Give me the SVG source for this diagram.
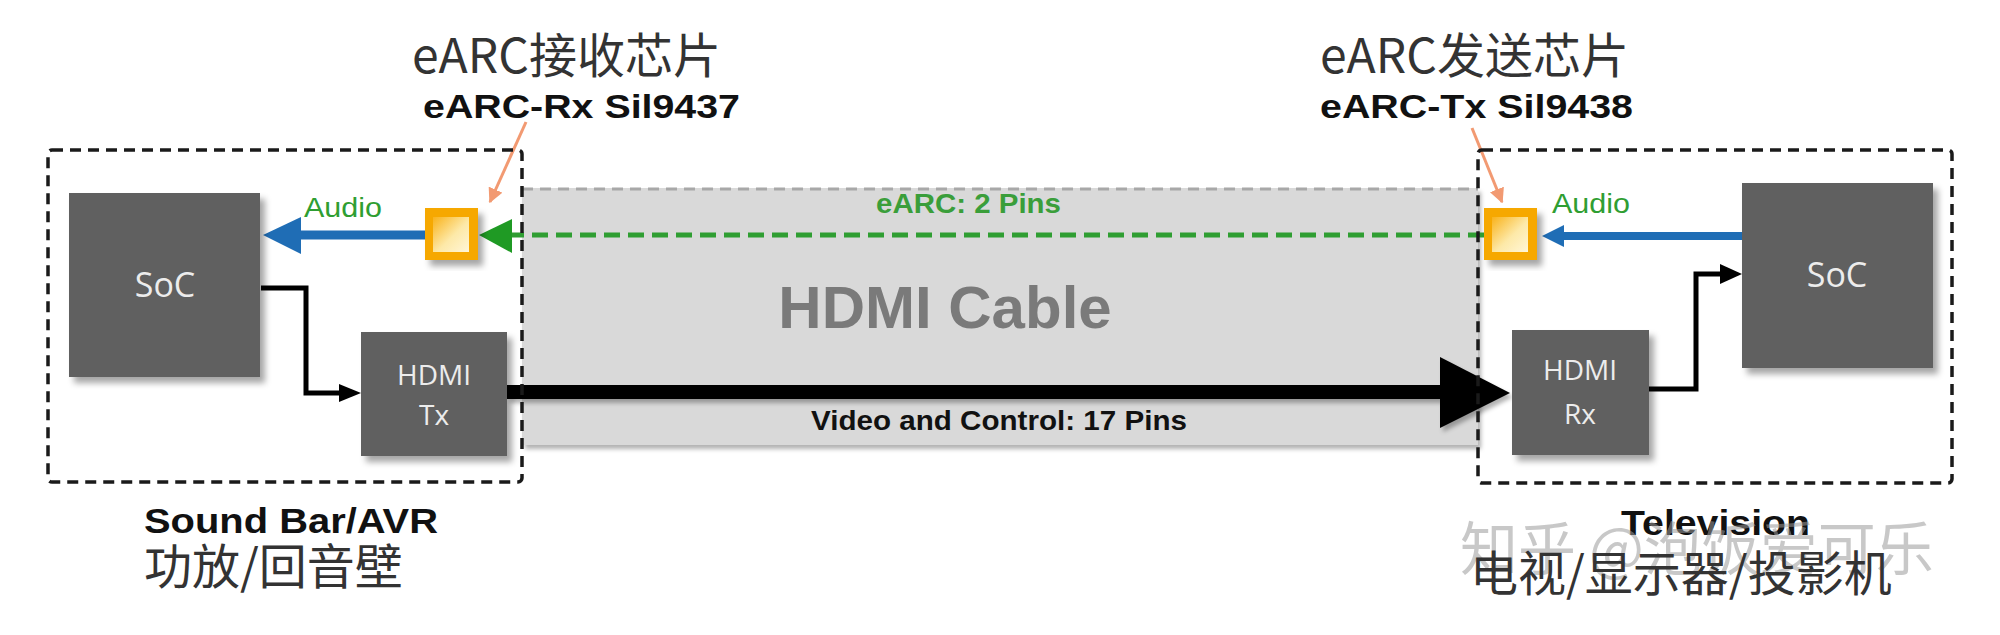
<svg xmlns="http://www.w3.org/2000/svg" width="2000" height="635" viewBox="0 0 2000 635">
<defs>
<filter id="sh" x="-20%" y="-20%" width="140%" height="140%">
<feDropShadow dx="5" dy="6" stdDeviation="3" flood-color="#000" flood-opacity="0.35"/>
</filter>
<filter id="shs" x="-5%" y="-30%" width="110%" height="160%">
<feDropShadow dx="3" dy="4" stdDeviation="2" flood-color="#000" flood-opacity="0.3"/>
</filter>
<linearGradient id="chipg" x1="0" y1="0" x2="1" y2="1">
<stop offset="0" stop-color="#f9b21a"/>
<stop offset="0.55" stop-color="#fde9a8"/>
<stop offset="1" stop-color="#fff6d8"/>
</linearGradient>
<marker id="oarr" viewBox="0 0 10 10" refX="9" refY="5" markerWidth="5" markerHeight="5" orient="auto" markerUnits="strokeWidth">
<path d="M0,0 L10,5 L0,10 z" fill="#f29a72"/>
</marker>
</defs>
<style>
.box{fill:#606060;filter:url(#sh)}
.btxt{font-family:"Open Sans","Noto Sans",sans-serif;fill:#ececec;text-anchor:middle}
.dash{fill:none;stroke:#1a1a1a;stroke-width:3.5;stroke-dasharray:11 7}
.cjk{font-family:"Noto Sans CJK SC","Noto Sans",sans-serif;font-size:48px;fill:#333}
.bold{font-family:"Liberation Sans",Arial,sans-serif;font-weight:bold}
.green{font-family:"Liberation Sans",Arial,sans-serif;fill:#2f9e32}
.chip{fill:#f6a800;filter:url(#sh)}
.lead{stroke:#f29a72;stroke-width:3;fill:none}
</style>
<rect width="2000" height="635" fill="#fff"/>

<g id="hdmi-cable">
<rect x="522" y="188" width="956" height="257" fill="#d9d9d9" filter="url(#shs)"/>
<line x1="522" y1="189" x2="1478" y2="189" stroke="#a8a8a8" stroke-width="3" stroke-dasharray="11 7"/>
<text x="945" y="328" class="bold" font-size="60" fill="#7a7a7a" text-anchor="middle">HDMI Cable</text>
</g>

<g id="connectors">
<g filter="url(#shs)">
<line x1="507" y1="392" x2="1442" y2="392" stroke="#000" stroke-width="14"/>
<polygon points="1440,357 1510,393 1440,428" fill="#000"/>
</g>
<line x1="1484" y1="235" x2="510" y2="235" stroke="#2f9e32" stroke-width="5" stroke-dasharray="16 8"/>
<polygon points="479,235 512,219 512,253" fill="#1f9a24"/>
<line x1="425" y1="235" x2="296" y2="235" stroke="#1f6db5" stroke-width="9"/>
<polygon points="263,235 301,217 301,254" fill="#1f6db5"/>
<line x1="1742" y1="236" x2="1558" y2="236" stroke="#1f6db5" stroke-width="8"/>
<polygon points="1542,236 1564,225 1564,247" fill="#1f6db5"/>
<polyline points="261,288 306,288 306,393 342,393" fill="none" stroke="#000" stroke-width="5"/>
<polygon points="339,384 361,393 339,402" fill="#000"/>
<polyline points="1649,389 1696,389 1696,274 1722,274" fill="none" stroke="#000" stroke-width="5"/>
<polygon points="1720,264 1742,274 1720,284" fill="#000"/>
<line x1="526" y1="122" x2="490" y2="202" class="lead" marker-end="url(#oarr)"/>
<line x1="1472" y1="128" x2="1502" y2="202" class="lead" marker-end="url(#oarr)"/>
<text x="304" y="217" class="green" font-size="27" textLength="78" lengthAdjust="spacingAndGlyphs">Audio</text>
<text x="1552" y="213" class="green" font-size="27" textLength="78" lengthAdjust="spacingAndGlyphs">Audio</text>
<text x="876" y="213" class="bold" font-size="27" fill="#3a9e3a" textLength="185" lengthAdjust="spacingAndGlyphs">eARC: 2 Pins</text>
<text x="811" y="430" class="bold" font-size="27" fill="#111" textLength="376" lengthAdjust="spacingAndGlyphs">Video and Control: 17 Pins</text>
</g>

<g id="soundbar">
<rect x="48" y="150" width="474" height="332" rx="4" class="dash"/>
<text x="144" y="533" class="bold" font-size="35" fill="#111" textLength="294" lengthAdjust="spacingAndGlyphs">Sound Bar/AVR</text>
<text x="144" y="584" class="cjk">功放/回音壁</text>
</g>

<g id="television">
<rect x="1478" y="150" width="474" height="333" rx="4" class="dash"/>
<text x="1621" y="535" class="bold" font-size="35" fill="#111" textLength="189" lengthAdjust="spacingAndGlyphs">Television</text>
</g>

<g id="soc-left">
<rect x="69" y="193" width="191" height="184" class="box"/>
<text x="165" y="297" class="btxt" font-size="34">SoC</text>
</g>

<g id="hdmi-tx">
<rect x="361" y="332" width="146" height="124" class="box"/>
<text x="434" y="385" class="btxt" font-size="28">HDMI</text>
<text x="434" y="425" class="btxt" font-size="28">Tx</text>
</g>

<g id="soc-right">
<rect x="1742" y="183" width="191" height="185" class="box"/>
<text x="1837" y="287" class="btxt" font-size="34">SoC</text>
</g>

<g id="hdmi-rx">
<rect x="1512" y="330" width="137" height="125" class="box"/>
<text x="1580" y="380" class="btxt" font-size="28">HDMI</text>
<text x="1580" y="424" class="btxt" font-size="28">Rx</text>
</g>

<g id="earc-rx">
<rect x="425" y="208" width="53" height="52" class="chip"/>
<rect x="433" y="217" width="36" height="35" fill="url(#chipg)"/>
<text x="412" y="73" class="cjk">eARC接收芯片</text>
<text x="423" y="118" class="bold" font-size="34" fill="#111" textLength="317" lengthAdjust="spacingAndGlyphs">eARC-Rx Sil9437</text>
</g>

<g id="earc-tx">
<rect x="1484" y="208" width="53" height="52" class="chip"/>
<rect x="1492" y="217" width="36" height="35" fill="url(#chipg)"/>
<text x="1320" y="73" class="cjk">eARC发送芯片</text>
<text x="1320" y="118" class="bold" font-size="34" fill="#111" textLength="313" lengthAdjust="spacingAndGlyphs">eARC-Tx Sil9438</text>
</g>

<text x="1460" y="570" font-family="Noto Sans CJK SC, sans-serif" font-size="58" fill="#9a9a9a" fill-opacity="0.55">知乎 @泡饭爱可乐</text>
<text x="1470" y="591" class="cjk" fill="#222">电视/显示器/投影机</text>
</svg>
